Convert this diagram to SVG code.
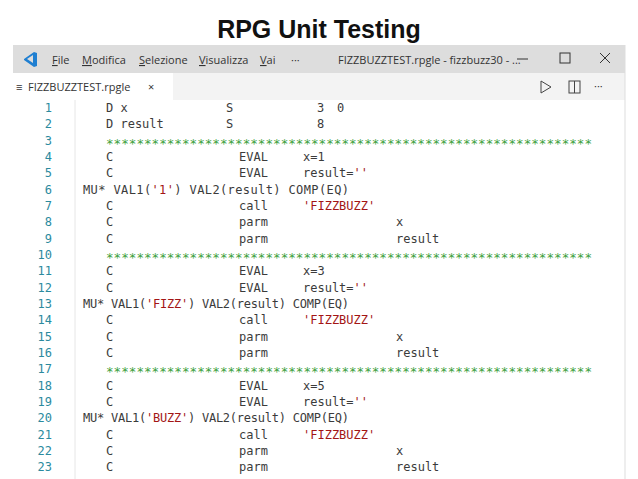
<svg xmlns="http://www.w3.org/2000/svg" width="638" height="479" viewBox="0 0 638 479">
<style>
.t{font-family:"DejaVu Sans Mono",monospace;font-size:12px;fill:#3b3b3b}
.n{font-family:"DejaVu Sans Mono",monospace;font-size:12px;fill:#2b8a9e;text-anchor:end}
.s{fill:#a31515}
.g{fill:#3ca03c;font-family:"DejaVu Sans Mono",monospace;font-size:12px}
.m{font-family:"Open Sans","Liberation Sans",sans-serif;font-size:11px;fill:#333}
</style>
<rect width="638" height="479" fill="#fff"/>
<text x="319" y="38" text-anchor="middle" font-family="Liberation Sans,Arial,sans-serif" font-size="25" font-weight="bold" fill="#111">RPG Unit Testing</text>
<g id="titlebar">
<rect x="13" y="45" width="612" height="28" fill="#dddddd"/>
<path d="M24 59 L34 52 L37 53 L37 66 L34 67 L24 60 Z M27 59 L33 55 L33 63 Z" fill="#1f7fd1" fill-rule="evenodd"/>
<text class="m" x="52" y="64"><tspan text-decoration="underline">F</tspan>ile</text>
<text class="m" x="82" y="64"><tspan text-decoration="underline">M</tspan>odifica</text>
<text class="m" x="139" y="64"><tspan text-decoration="underline">S</tspan>elezione</text>
<text class="m" x="199" y="64"><tspan text-decoration="underline">V</tspan>isualizza</text>
<text class="m" x="260" y="64"><tspan text-decoration="underline">V</tspan>ai</text>
<text class="m" x="291" y="64">···</text>
<text class="m" x="338" y="64">FIZZBUZZTEST.rpgle - fizzbuzz30 - ...</text>
<line x1="517" y1="59" x2="528" y2="59" stroke="#333"/>
<rect x="560" y="53" width="10" height="10" fill="none" stroke="#333"/>
<path d="M600 53 L610 63 M610 53 L600 63" stroke="#333"/>
</g>
<g id="tabbar">
<rect x="13" y="73" width="612" height="27" fill="#f3f3f3"/>
<rect x="13" y="73" width="160" height="27" fill="#fff"/>
<text class="m" x="16" y="91" fill="#888">≡</text>
<text class="m" x="28" y="91">FIZZBUZZTEST.rpgle</text>
<text class="m" x="148" y="91">×</text>
<path d="M541 81 L551 87 L541 93 Z" fill="none" stroke="#444"/>
<rect x="569" y="81" width="11" height="12" fill="none" stroke="#444"/><line x1="574.5" y1="81" x2="574.5" y2="93" stroke="#444"/>
<text class="m" x="594" y="90">···</text>
</g>
<g id="editor">
<rect x="13" y="100" width="612" height="379" fill="#fff"/>
<line x1="75" y1="100" x2="75" y2="479" stroke="#e6e6e6"/>
<line x1="625" y1="45" x2="625" y2="479" stroke="#ddd"/>
<g class="n">
<text x="52" y="112">1</text><text x="52" y="128">2</text><text x="52" y="145">3</text><text x="52" y="161">4</text><text x="52" y="177">5</text><text x="52" y="194">6</text><text x="52" y="210">7</text><text x="52" y="226">8</text><text x="52" y="243">9</text><text x="52" y="259">10</text><text x="52" y="275">11</text><text x="52" y="292">12</text><text x="52" y="308">13</text><text x="52" y="324">14</text><text x="52" y="341">15</text><text x="52" y="357">16</text><text x="52" y="373">17</text><text x="52" y="390">18</text><text x="52" y="406">19</text><text x="52" y="422">20</text><text x="52" y="439">21</text><text x="52" y="455">22</text><text x="52" y="471">23</text>
</g>
<g class="t">
<text x="106" y="112">D x</text><text x="226" y="112">S</text><text x="317" y="112">3</text><text x="337" y="112">0</text>
<text x="106" y="128">D result</text><text x="226" y="128">S</text><text x="317" y="128">8</text>
<text class="g" x="106" y="148" textLength="486" lengthAdjust="spacingAndGlyphs">****************************************************************</text>
<text x="106" y="161">C</text><text x="239" y="161">EVAL</text><text x="303" y="161">x=1</text>
<text x="106" y="177">C</text><text x="239" y="177">EVAL</text><text x="303" y="177">result=<tspan class="s">''</tspan></text>
<text x="83" y="194" textLength="266" lengthAdjust="spacing">MU* VAL1(<tspan class="s">'1'</tspan>) VAL2(result) COMP(EQ)</text>
<text x="106" y="210">C</text><text x="239" y="210">call</text><text class="s" x="303" y="210">'FIZZBUZZ'</text>
<text x="106" y="226">C</text><text x="239" y="226">parm</text><text x="396" y="226">x</text>
<text x="106" y="243">C</text><text x="239" y="243">parm</text><text x="396" y="243">result</text>
<text class="g" x="106" y="262" textLength="486" lengthAdjust="spacingAndGlyphs">****************************************************************</text>
<text x="106" y="275">C</text><text x="239" y="275">EVAL</text><text x="303" y="275">x=3</text>
<text x="106" y="292">C</text><text x="239" y="292">EVAL</text><text x="303" y="292">result=<tspan class="s">''</tspan></text>
<text x="83" y="308" textLength="266" lengthAdjust="spacing">MU* VAL1(<tspan class="s">'FIZZ'</tspan>) VAL2(result) COMP(EQ)</text>
<text x="106" y="324">C</text><text x="239" y="324">call</text><text class="s" x="303" y="324">'FIZZBUZZ'</text>
<text x="106" y="341">C</text><text x="239" y="341">parm</text><text x="396" y="341">x</text>
<text x="106" y="357">C</text><text x="239" y="357">parm</text><text x="396" y="357">result</text>
<text class="g" x="106" y="376" textLength="486" lengthAdjust="spacingAndGlyphs">****************************************************************</text>
<text x="106" y="390">C</text><text x="239" y="390">EVAL</text><text x="303" y="390">x=5</text>
<text x="106" y="406">C</text><text x="239" y="406">EVAL</text><text x="303" y="406">result=<tspan class="s">''</tspan></text>
<text x="83" y="422" textLength="266" lengthAdjust="spacing">MU* VAL1(<tspan class="s">'BUZZ'</tspan>) VAL2(result) COMP(EQ)</text>
<text x="106" y="439">C</text><text x="239" y="439">call</text><text class="s" x="303" y="439">'FIZZBUZZ'</text>
<text x="106" y="455">C</text><text x="239" y="455">parm</text><text x="396" y="455">x</text>
<text x="106" y="471">C</text><text x="239" y="471">parm</text><text x="396" y="471">result</text>
</g>
</g>
</svg>
